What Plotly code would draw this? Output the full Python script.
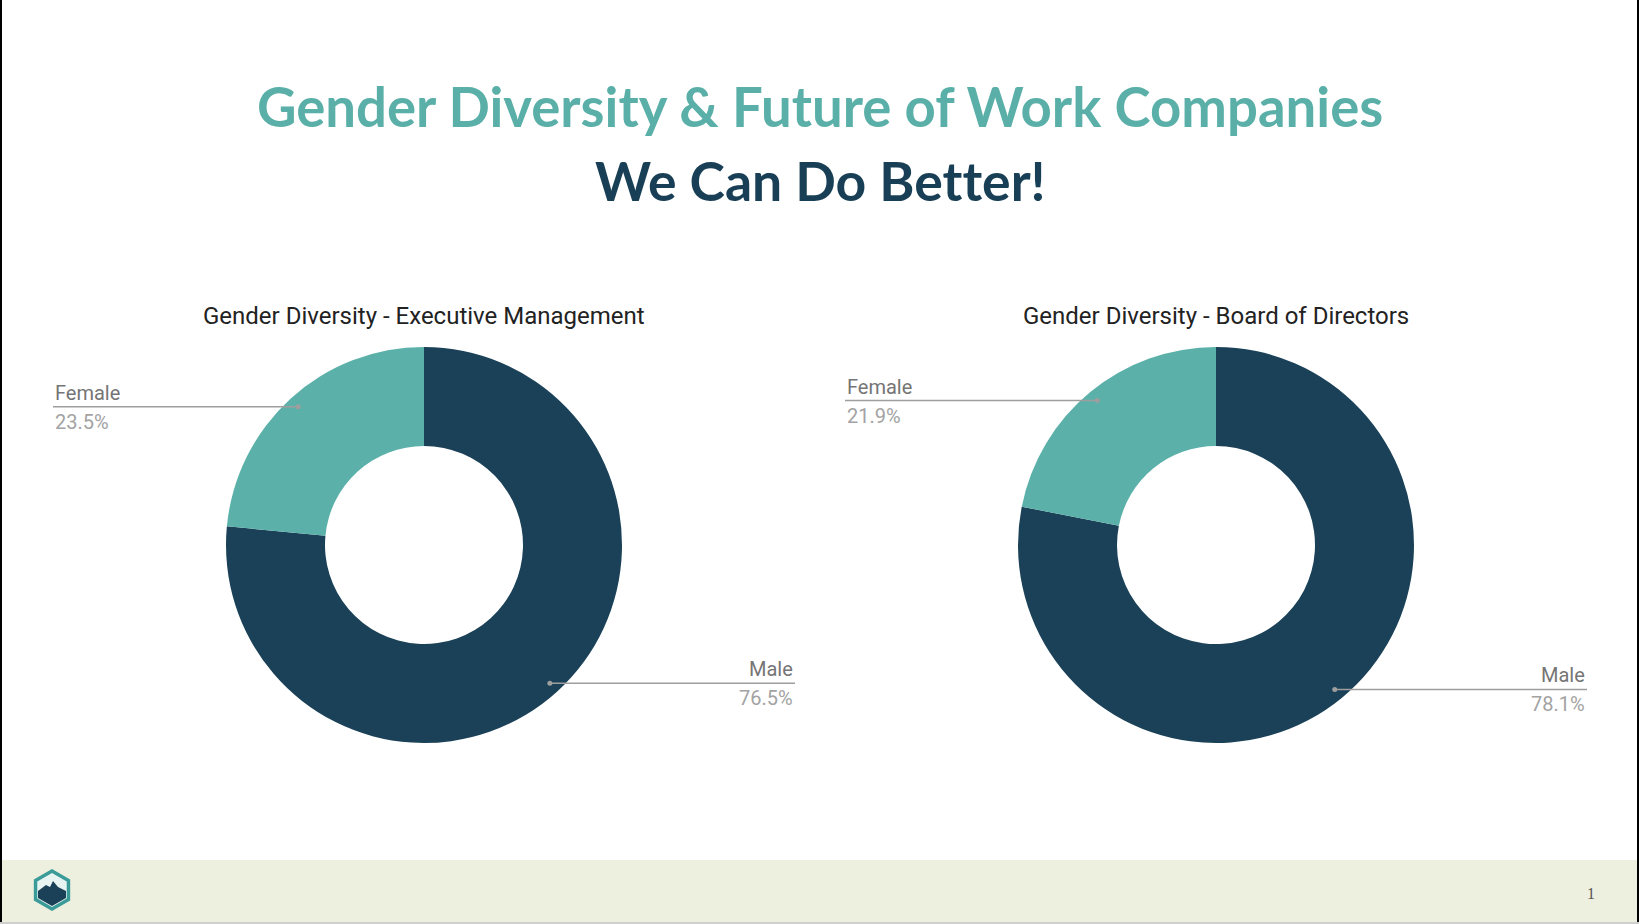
import math
import plotly.graph_objects as go

W, H = 1639, 924

# ---- data ----
categories = ["Female", "Male"]
exec_values = [23.5, 76.5]
board_values = [21.9, 78.1]
chart_titles = ["Gender Diversity - Executive Management", "Gender Diversity - Board of Directors"]
main_title = "Gender Diversity & Future of Work Companies"
sub_title = "We Can Do Bet\u200cter!"
page_number = "1"

colors = ["#5bb1a9", "#1a4157"]

def px(x):
    return x / W

def py(y):
    return 1 - y / H

centers = [(424, 545), (1216, 545)]
R = 198
fig = go.Figure()
shapes = []
annotations = []

for (cx, cy), vals, ttl in zip(centers, [exec_values, board_values], chart_titles):
    # Male first going clockwise from 12 o'clock leaves Female in the upper-left,
    # i.e. Female drawn counterclockwise from 12 o'clock as in the reference.
    fig.add_trace(go.Pie(
        labels=categories[::-1], values=vals[::-1], hole=0.5, sort=False,
        direction="clockwise", rotation=0,
        marker=dict(colors=colors[::-1], line=dict(width=0)),
        textinfo="none", hoverinfo="label+percent", showlegend=False,
        domain=dict(x=[px(cx - R), px(cx + R)], y=[py(cy + R), py(cy - R)]),
    ))
    annotations.append(dict(text=ttl, x=px(cx), y=py(316), xref="paper", yref="paper",
                            showarrow=False, xanchor="center", yanchor="middle",
                            font=dict(family="Roboto", size=24, color="#222222")))
    total = sum(vals)
    cum = 0
    for i, (cat, v) in enumerate(zip(categories, vals)):
        mid = (cum + v / 2) / total
        cum += v
        ang = mid * 2 * math.pi  # counterclockwise from 12 o'clock
        rd = 187
        dx = -math.sin(ang) * rd
        dy = -math.cos(ang) * rd  # screen y (down positive)
        dotx, doty = cx + dx, cy + dy
        left = dx < 0
        lx = cx - 371 if left else cx + 371
        shapes.append(dict(type="line", xref="paper", yref="paper",
                           x0=px(lx), x1=px(dotx), y0=py(doty), y1=py(doty),
                           line=dict(color="#9e9e9e", width=1.5)))
        shapes.append(dict(type="circle", xref="paper", yref="paper",
                           x0=px(dotx - 2.5), x1=px(dotx + 2.5), y0=py(doty + 2.5), y1=py(doty - 2.5),
                           fillcolor="#9e9e9e", line=dict(width=0)))
        anchor = "left" if left else "right"
        annotations.append(dict(text=cat, x=px(lx), y=py(doty - 14), xref="paper", yref="paper",
                                showarrow=False, xanchor=anchor, yanchor="middle",
                                font=dict(family="Roboto", size=20, color="#757575")))
        annotations.append(dict(text=f"{v:.1f}%", x=px(lx), y=py(doty + 15), xref="paper", yref="paper",
                                showarrow=False, xanchor=anchor, yanchor="middle",
                                font=dict(family="Roboto", size=20, color="#a3a3a3")))

# titles
annotations.append(dict(text=f"<b>{main_title}</b>", x=px(820), y=py(106), xref="paper", yref="paper",
                        showarrow=False, xanchor="center", yanchor="middle",
                        font=dict(family="Lato", size=54.5, color="#5ab0a8")))
annotations.append(dict(text=f"<b>{sub_title}</b>", x=px(820), y=py(180), xref="paper", yref="paper",
                        showarrow=False, xanchor="center", yanchor="middle",
                        font=dict(family="Lato", size=53.5, color="#183f55")))
annotations.append(dict(text=page_number, x=px(1591), y=py(893), xref="paper", yref="paper",
                        showarrow=False, xanchor="center", yanchor="middle",
                        font=dict(family="Liberation Serif", size=16, color="#555555")))

# footer band
shapes.insert(0, dict(type="rect", xref="paper", yref="paper", x0=0, x1=1, y0=0, y1=py(860),
                      fillcolor="#eef0df", line=dict(width=0), layer="below"))
# borders
shapes.append(dict(type="line", xref="paper", yref="paper", x0=px(1), x1=px(1), y0=0, y1=1,
                   line=dict(color="#000000", width=2)))
shapes.append(dict(type="line", xref="paper", yref="paper", x0=px(1638), x1=px(1638), y0=0, y1=1,
                   line=dict(color="#000000", width=2)))
shapes.append(dict(type="line", xref="paper", yref="paper", x0=0, x1=1, y0=py(923), y1=py(923),
                   line=dict(color="#cfcfcf", width=2)))

# logo (hexagon)
lx0, ly0 = 52, 890
def hexpath(r):
    pts = []
    for k in range(6):
        a = math.radians(90 + 60 * k)
        pts.append((lx0 + r * math.cos(a), ly0 - r * math.sin(a)))
    return "M " + " L ".join(f"{px(x)},{py(y)}" for x, y in pts) + " Z"
shapes.append(dict(type="path", xref="paper", yref="paper", path=hexpath(21),
                   fillcolor="#3a9b98", line=dict(width=0)))
shapes.append(dict(type="path", xref="paper", yref="paper", path=hexpath(17),
                   fillcolor="#e8f4f1", line=dict(width=0)))
mountain = [(lx0 - 14, ly0 + 1), (lx0 - 6, ly0 - 5), (lx0 - 2, ly0 - 3), (lx0 + 1, ly0 - 9),
            (lx0 + 6, ly0 - 3), (lx0 + 14, ly0 + 1), (lx0 + 14, ly0 + 8), (lx0, ly0 + 16), (lx0 - 14, ly0 + 8)]
shapes.append(dict(type="path", xref="paper", yref="paper",
                   path="M " + " L ".join(f"{px(x)},{py(y)}" for x, y in mountain) + " Z",
                   fillcolor="#1a4157", line=dict(width=0)))

fig.update_layout(
    width=W, height=H, margin=dict(l=0, r=0, t=0, b=0),
    paper_bgcolor="#ffffff", plot_bgcolor="#ffffff",
    shapes=shapes, annotations=annotations,
)
fig.write_html("out.html")
